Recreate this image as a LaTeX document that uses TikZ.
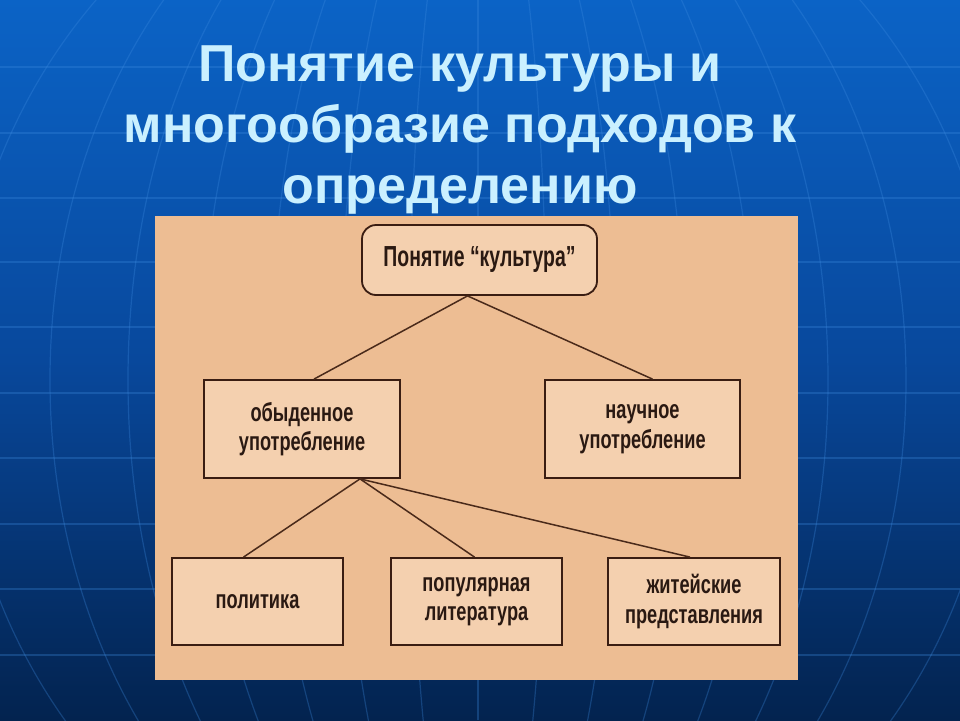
\documentclass[tikz,border=0pt]{standalone}
\usepackage{fontspec}
\setmainfont{Liberation Sans}
\newfontfamily\boxfont[FakeStretch=0.7]{Liberation Sans}
\newfontfamily\topfont[FakeStretch=0.67]{Liberation Sans}
\definecolor{bgtop}{HTML}{0B63C6}
\definecolor{bgmid}{HTML}{08489C}
\definecolor{bgbot}{HTML}{03234F}
\definecolor{gridc}{HTML}{3D8BE0}
\definecolor{panelc}{HTML}{EDBD93}
\definecolor{boxc}{HTML}{F4D0AF}
\definecolor{edgec}{HTML}{3A1D12}
\definecolor{linkc}{HTML}{4A2A1A}
\definecolor{txtc}{HTML}{2A1912}
\definecolor{titlec}{HTML}{CAF0FF}
\begin{document}
\begin{tikzpicture}[x=1pt,y=-1pt,
  gridline/.style={draw=gridc,opacity=0.3,line width=1.2pt},
  boxnode/.style={draw=edgec,fill=boxc,line width=1.8pt,align=center,
    text=txtc,font=\boxfont\bfseries\fontsize{26}{29.5}\selectfont,inner sep=0pt},
  topnode/.style={boxnode,rounded corners=14pt,font=\topfont\bfseries\fontsize{29}{32}\selectfont},
  link/.style={draw=linkc,line width=1.5pt},
  titletext/.style={text=titlec,font=\bfseries\fontsize{52}{61}\selectfont,align=center}]
\useasboundingbox (0,0) rectangle (960,720);
% background
\shade[top color=bgtop,bottom color=bgbot,middle color=bgmid] (0,0) rectangle (960,720);
\begin{scope}
\clip (0,0) rectangle (960,720);
\foreach \yy in {67,133,198,262,327,393,458,524,589,655}
  \draw[gridline] (0,\yy) -- (960,\yy);
\foreach \rx in {69,138,208,277,350,428,520}
  \draw[gridline] (478,380) ellipse [x radius=\rx, y radius=560];
\draw[gridline] (478,-200) -- (478,720);
\end{scope}
% title
\node[titletext] (title) at (460,130) {Понятие культуры и\\многообразие подходов к\\определению};
% panel
\fill[panelc] (155,216) rectangle (798,680);
% nodes
\node[topnode,minimum width=235pt,minimum height=70pt] (top) at (479.5,260) {Понятие “культура”};
\node[boxnode,minimum width=196pt,minimum height=98pt] (ml) at (302,429) {обыденное\\употребление};
\node[boxnode,minimum width=195pt,minimum height=98pt] (mr) at (642.5,429) {научное\\употребление};
\node[boxnode,minimum width=171pt,minimum height=87pt] (b1) at (257.5,601.5) {политика};
\node[boxnode,minimum width=171pt,minimum height=87pt] (b2) at (476.5,601.5) {популярная\\литература};
\node[boxnode,minimum width=172pt,minimum height=87pt] (b3) at (694,601.5) {житейские\\представления};
% connectors
\draw[link] ([xshift=-12pt]top.south) -- ([xshift=12pt]ml.north);
\draw[link] ([xshift=-12pt]top.south) -- ([xshift=10pt]mr.north);
\draw[link] ([xshift=58pt]ml.south) -- ([xshift=-14pt]b1.north);
\draw[link] ([xshift=58pt]ml.south) -- ([xshift=-2pt]b2.north);
\draw[link] ([xshift=58pt]ml.south) -- ([xshift=-4pt]b3.north);
\end{tikzpicture}
\end{document}
